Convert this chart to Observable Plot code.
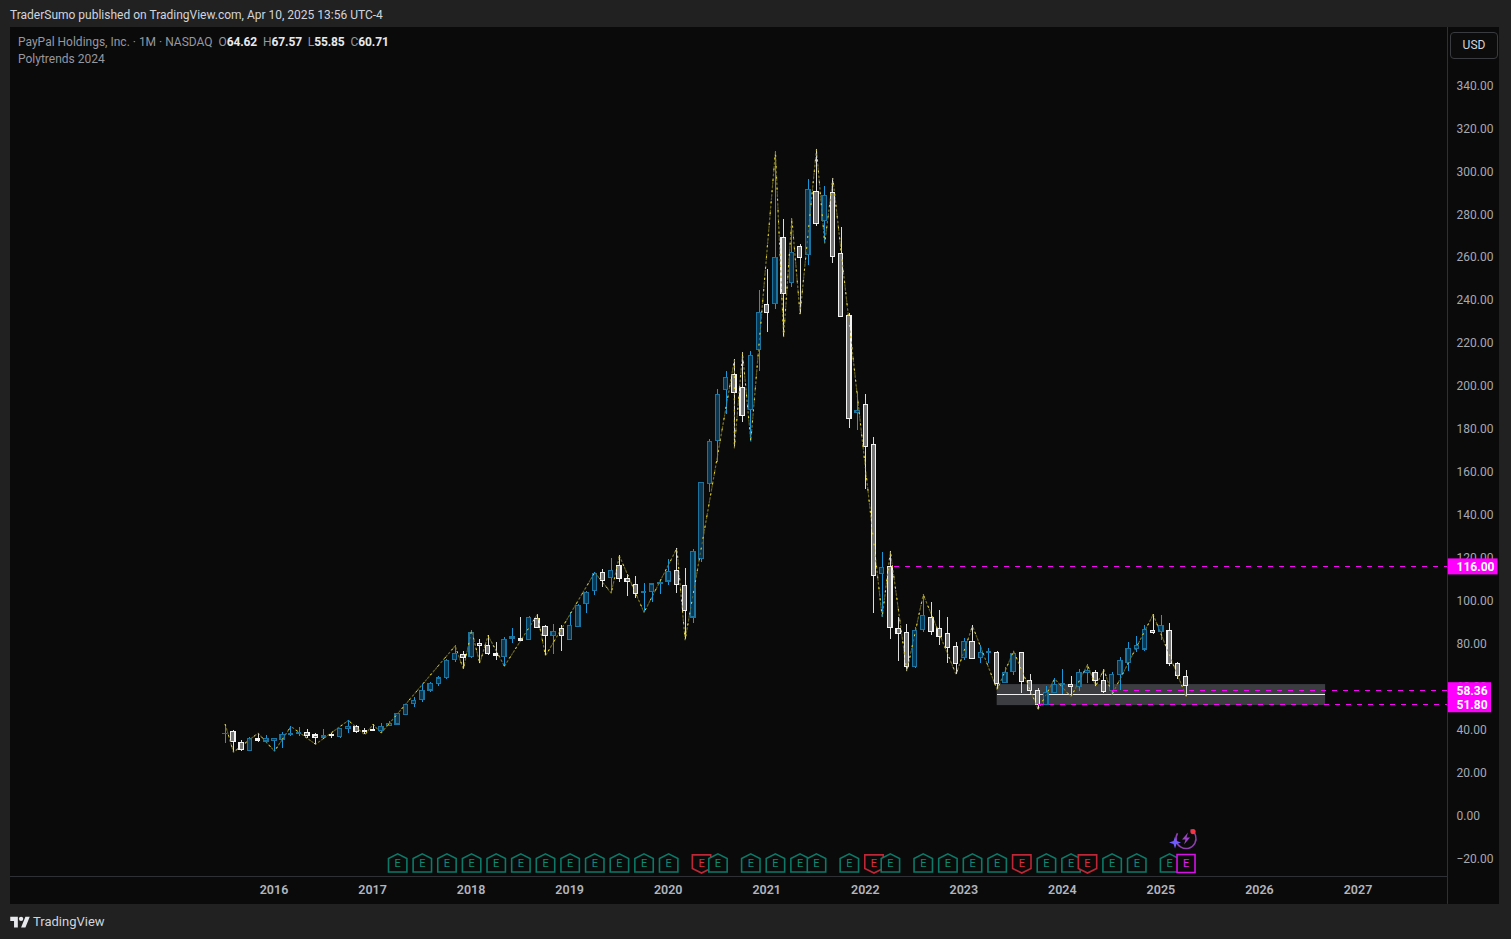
<!DOCTYPE html>
<html>
<head>
<meta charset="utf-8">
<script src="https://cdn.jsdelivr.net/npm/d3@7"></script>
<script src="https://cdn.jsdelivr.net/npm/@observablehq/plot@0.6"></script>
<style>
html,body{margin:0;padding:0;background:#212121;width:1511px;height:939px;overflow:hidden}
body{font-family:"Roboto",sans-serif;position:relative}
.abs{position:absolute;white-space:pre}
#panel{position:absolute;left:10px;top:27px;width:1489px;height:877px;background:#0a0a0a}
#panel svg{display:block}
b{color:#e8e9ec;font-weight:700;letter-spacing:-0.15px}
</style>
</head>
<body>
<div class="abs" style="left:10px;top:7px;font-size:12px;line-height:17px;color:#d1d4dc">TraderSumo published on TradingView.com, Apr 10, 2025 13:56 UTC-4</div>
<div id="panel"></div>
<div class="abs" style="left:18px;top:34px;font-size:12px;line-height:17px;color:#9598a1">PayPal Holdings, Inc. · 1M · NASDAQ  O<b>64.62</b>  H<b>67.57</b>  L<b>55.85</b>  C<b>60.71</b></div>
<div class="abs" style="left:18px;top:51px;font-size:12px;line-height:17px;color:#9598a1">Polytrends 2024</div>
<div class="abs" style="left:1450px;top:32px;width:46px;height:25px;border:1px solid #3a3b40;border-radius:4px;background:#0c0c0c;color:#d1d4dc;font-size:12px;line-height:25px;text-align:center">USD</div>
<svg class="abs" style="left:10px;top:915px" width="20" height="13" viewBox="0 0 36 24"><path fill="#e8e9ec" d="M14 23H7V11H0V3h14zM28 23h-8L28 3h8z"/><circle cx="20" cy="7" r="4" fill="#e8e9ec"/></svg>
<div class="abs" style="left:33px;top:912px;font-size:13px;line-height:19px;color:#d1d4dc">TradingView</div>
<script>
const firstMonthIndex = -6; // Jul 2015, with Jan 2016 as 0
const opens = [38.0,39.2,34.1,30.2,35.6,34.7,
 34.8,35.3,37.6,38.3,38.7,37.5,36.4,37.5,36.7,40.4,41.5,39.5,
 40.1,39.5,42.0,42.6,47.0,52.1,54.0,58.4,61.4,64.2,72.6,75.0,
 74.0,80.0,79.2,75.2,74.1,82.3,82.6,81.9,91.8,88.1,83.7,87.2,
 81.9,87.9,98.6,104.7,113.2,110.7,116.5,110.4,107.6,103.8,104.2,108.1,
 109.2,114.2,107.2,92.4,119.7,154.7,174.5,198.3,205.4,199.4,189.1,217.1,
 238.0,238.3,269.2,248.1,264.9,261.2,290.6,277.0,290.2,261.8,232.8,187.7,
 191.3,172.8,112.6,116.0,87.2,85.3,69.3,86.5,92.3,87.2,84.8,78.8,
 73.5,81.1,73.5,75.8,76.0,61.8,67.0,76.0,62.9,58.3,51.6,57.2,
 60.9,61.1,60.0,66.7,66.7,62.9,58.1,65.6,71.2,77.7,77.5,86.2,
 85.6,86.2,70.8,64.62];
const closes = [38.2,34.4,30.6,35.9,35.0,35.9,
 35.9,37.8,38.1,38.7,37.2,36.2,37.0,37.2,40.7,41.5,39.0,39.0,
 39.5,41.5,42.9,47.6,51.8,53.6,58.3,61.5,64.0,72.3,75.5,73.5,
 85.3,79.1,75.4,74.6,82.0,83.1,81.7,92.3,87.5,83.7,85.7,83.7,
 88.5,97.9,103.9,112.8,109.3,114.2,110.3,108.9,103.3,104.2,107.8,108.6,
 113.7,107.5,95.4,123.0,155.0,174.2,196.1,204.0,197.0,186.3,214.3,234.3,
 234.1,259.9,243.0,262.2,259.8,291.6,275.6,288.8,260.2,232.3,184.9,188.7,
 171.9,111.8,115.6,87.5,84.8,69.3,86.1,93.2,85.6,83.3,78.1,70.7,
 81.1,73.0,76.0,76.3,61.5,66.7,75.5,62.3,58.1,51.6,57.3,61.1,
 61.4,60.0,66.7,67.6,62.8,57.6,65.7,72.2,77.8,79.2,86.7,85.1,
 88.6,70.7,65.1,60.71];
const highs = [42.6,39.8,35.2,36.4,38.6,37.5,
 35.9,38.9,41.7,41.2,40.1,38.4,40.1,38.6,40.9,44.5,42.0,40.7,
 42.6,43.1,44.0,47.9,52.1,55.2,61.2,62.2,65.0,72.7,79.2,76.6,
 86.4,82.2,84.0,80.8,83.1,87.3,92.3,92.7,93.8,88.5,89.2,88.7,
 94.6,98.5,104.5,113.4,114.6,119.9,121.1,112.6,111.4,108.3,108.1,110.1,
 119.3,124.6,115.2,123.9,155.0,175.2,198.4,206.8,212.4,215.7,216.1,244.7,
 254.3,309.4,277.8,278.1,266.1,296.2,310.4,293.1,296.9,273.9,233.8,197.4,
 196.3,176.4,122.7,123.2,92.6,89.2,88.0,103.1,99.4,95.7,92.4,80.8,
 82.7,88.5,79.2,77.8,76.4,69.0,76.8,76.0,65.9,59.4,60.3,63.9,
 68.2,64.8,68.2,70.4,67.6,68.2,66.8,73.8,80.8,83.6,88.6,93.8,
 93.4,89.6,71.5,67.57];
const lows = [33.9,29.7,30.2,30.2,34.2,33.9,
 30.2,31.4,37.0,37.0,35.9,33.4,35.9,36.2,36.2,38.4,38.6,37.8,
 39.5,38.7,42.0,42.3,47.0,50.7,53.0,57.7,60.4,63.7,71.5,68.4,
 73.5,71.2,74.7,72.4,69.8,80.3,81.7,81.9,87.5,74.6,75.2,76.8,
 81.9,87.9,94.3,102.7,106.4,103.8,108.7,102.2,101.1,94.8,99.4,103.1,
 107.3,103.6,82.0,89.6,118.0,150.5,164.8,187.0,171.4,183.2,174.5,207.0,
 225.3,236.0,223.0,246.3,233.8,256.3,274.5,266.7,257.4,232.3,180.6,179.5,
 152.0,94.5,92.6,82.2,71.9,67.4,68.7,85.4,83.9,79.4,71.0,65.9,
 72.4,73.0,71.0,71.0,58.8,61.8,65.4,57.2,56.4,49.7,51.6,57.2,
 56.6,55.5,58.1,61.7,60.5,57.0,56.6,58.4,67.3,76.3,76.8,84.5,
 81.7,69.6,63.4,55.85];

// Polytrends zigzag: [month index, price]
const trendMonths = [-6,-5,-2,0,2,5,9,11,12,13,22,23,24,25,26,28,32,33,39,41,42,45,49,50,56,56,57,58,61,62,63,64,66,67,68,74,75,77,79,83,85,88,90,93,95,97,99,100,101,102,107,111];
const trendPrices = [42.6,29.7,38.6,30.2,41.7,33.4,44.5,37.8,42.6,38.7,79.2,68.4,86.4,71.2,84.0,69.8,93.8,74.6,113.4,103.8,121.1,94.8,124.6,82.0,212.4,171.4,215.7,174.5,309.4,223.0,278.1,233.8,310.4,266.7,296.9,92.6,123.2,67.4,103.1,65.9,88.5,58.8,76.8,49.7,63.9,55.5,70.4,60.5,68.2,56.6,93.8,55.85];

const earningsMonths = [15,18,21,24,27,30,33,36,39,42,45,48,52,54,58,61,64,66,70,73,75,79,82,85,88,91,94,97,99,102,105,109,111];
const earningsKinds = ["g","g","g","g","g","g","g","g","g","g","g","g","r","g","g","g","g","g","g","r","g","g","g","g","g","r","g","g","r","g","g","g","m"];

const levelPrices = [116.00,58.36,51.80];
const levelStarts = [75.5,102,93];
const levelEnds = [149,148.2,148.2];
const zoneMonths = [88,128];
const zonePrices = [51.4,61.2];
const zoneLine = 56.5;

const yearTicks = d3.range(0,144,12);
const priceTicks = d3.range(-20,341,20);

const xMin = -32.15, xMax = 142.84, yMin = -28.17, yMax = 367.17;

const candles = opens.map((o,i)=>({m:i+firstMonthIndex,o,c:closes[i],h:highs[i],l:lows[i],top:Math.max(o,closes[i]),bot:Math.min(o,closes[i])}));
const up = candles.filter(d=>d.c>=d.o), down = candles.filter(d=>d.c<d.o);
const trend = trendMonths.map((m,i)=>({m,p:trendPrices[i]}));
const levels = levelPrices.map((p,i)=>({p,a:levelStarts[i],b:levelEnds[i]}));

const house = (upward)=>({draw(c){
  const w=9.2,h=9.6,t=3.6;
  if(upward){c.moveTo(0,-h);c.lineTo(w,-h+t+1);c.lineTo(w,h-1);c.lineTo(-w,h-1);c.lineTo(-w,-h+t+1);}
  else{c.moveTo(-w,-h+1);c.lineTo(w,-h+1);c.lineTo(w,h-t-1);c.lineTo(0,h);c.lineTo(-w,h-t-1);}
  c.closePath();
}});
const square = {draw(c){c.moveTo(-9,-9);c.lineTo(9,-9);c.lineTo(9,9);c.lineTo(-9,9);c.closePath();}};
const ring = {draw(c){c.arc(0,0,10,-1.1,3.7);}};
const bolt = {draw(c){c.moveTo(2,-6);c.lineTo(-4,1);c.lineTo(-0.5,1);c.lineTo(-2,6);c.lineTo(4,-1);c.lineTo(0.5,-1);c.closePath();}};
const star = {draw(c){c.moveTo(0,-6);c.lineTo(1.5,-1.5);c.lineTo(6,0);c.lineTo(1.5,1.5);c.lineTo(0,6);c.lineTo(-1.5,1.5);c.lineTo(-6,0);c.lineTo(-1.5,-1.5);c.closePath();}};
const kinds = {
 g:{symbol:house(true),stroke:"#0b7a68",text:"#0f8a75"},
 r:{symbol:house(false),stroke:"#bf2636",text:"#d8303f"},
 m:{symbol:square,stroke:"#d80fe8",text:"#e020f0"}
};
const iconY = -22.1, flashY = -10.5;

const earningsMarks = earningsMonths.map((m,i)=>{
  const k = kinds[earningsKinds[i]];
  return [
    Plot.dot([m],{x:d=>d,y:()=>iconY,symbol:k.symbol,stroke:k.stroke,fill:"#0a0a0a",strokeWidth:1.6,r:4}),
    Plot.text([m],{x:d=>d,y:()=>iconY,text:()=>"E",fill:k.text,fontSize:11,dy:0.5})
  ];
});

const chart = Plot.plot({
  width:1489,height:877,
  marginLeft:0,marginRight:52,marginTop:0,marginBottom:28,
  style:{background:"#0a0a0a",color:"#b2b5be",fontFamily:"Roboto,sans-serif",fontSize:"12px"},
  x:{domain:[xMin,xMax],range:[0,1437],type:"linear"},
  y:{domain:[yMin,yMax],range:[849,0],type:"linear"},
  marks:[
    Plot.ruleY([yMin],{stroke:"#2f2f36",strokeWidth:1}),
    Plot.ruleX([xMax],{stroke:"#2f2f36",strokeWidth:1,y1:yMin-13,y2:yMax}),
    Plot.axisX({ticks:yearTicks,tickFormat:d=>String(2016+d/12),tickSize:0,tickPadding:9,fontWeight:600,fontSize:12.5,dx:-0.5,label:null,fill:"#b2b5be"}),
    Plot.axisY({anchor:"right",ticks:priceTicks,tickFormat:d=>(d<0?"−":"")+Math.abs(d).toFixed(2),tickSize:0,tickPadding:9,fontSize:12,label:null,fill:"#a6a9b2"}),
    // zone
    Plot.rect([0],{x1:()=>zoneMonths[0],x2:()=>zoneMonths[1],y1:()=>zonePrices[0],y2:()=>zonePrices[1],fill:"#3c3d41"}),
    Plot.ruleY([zoneLine],{x1:()=>zoneMonths[0],x2:()=>zoneMonths[1],stroke:"#f0f0f0",strokeWidth:1,shapeRendering:"crispEdges"}),
    // trend, olive underlay
    Plot.line(trend,{x:"m",y:"p",stroke:"#5f5b20",strokeWidth:1.2,strokeDasharray:"1.5,2.5"}),
    // candles
    Plot.ruleX(up,{x:"m",y1:"l",y2:"h",stroke:"#1a96da",strokeWidth:1,shapeRendering:"crispEdges"}),
    Plot.ruleX(down,{x:"m",y1:"l",y2:"h",stroke:"#dcdcdc",strokeWidth:1,shapeRendering:"crispEdges"}),
    Plot.rect(up,{x1:d=>d.m-0.26,x2:d=>d.m+0.26,y1:"bot",y2:"top",fill:"#0c3650",stroke:"#1b739f",strokeWidth:1.2,shapeRendering:"crispEdges"}),
    Plot.rect(down,{x1:d=>d.m-0.26,x2:d=>d.m+0.26,y1:"bot",y2:"top",fill:"#767676",stroke:"#f2f2f2",strokeWidth:1.2,shapeRendering:"crispEdges"}),
    // trend, bright dots on top
    Plot.line(trend,{x:"m",y:"p",stroke:"#7f7928",strokeWidth:1,strokeDasharray:"1.5,4",strokeOpacity:0.7}),
    Plot.line(trend,{x:"m",y:"p",stroke:"#e8d82e",strokeWidth:1,strokeDasharray:"1,10"}),
    // levels
    Plot.ruleY(levels,{y:"p",x1:"a",x2:()=>xMax,stroke:"#ff00ff",strokeWidth:1,strokeDasharray:"5,6",shapeRendering:"crispEdges"}),
    Plot.rect(levels,{x1:()=>xMax+0.1,x2:"b",y1:d=>d.p-3.72,y2:d=>d.p+3.72,fill:"#ff00ff"}),
    Plot.text(levels,{x:()=>xMax,y:"p",text:d=>d.p.toFixed(2),fill:"#ffffff",fontWeight:700,fontSize:12,textAnchor:"start",dx:9}),
    // earnings
    ...earningsMarks,
    // flash icon
    Plot.dot([111],{x:d=>d,y:()=>flashY,symbol:ring,r:4,stroke:"#8e3fb0",fill:"none",strokeWidth:1.5}),
    Plot.dot([111],{x:d=>d,y:()=>flashY,symbol:bolt,r:4,fill:"#9c44c4",stroke:"none"}),
    Plot.dot([111],{x:d=>d,y:()=>flashY,symbol:star,r:4,fill:"#6f5cff",stroke:"none",dx:-11,dy:4}),
    Plot.dot([111],{x:d=>d,y:()=>flashY,r:2.6,fill:"#f23645",stroke:"none",dx:7,dy:-7})
  ]
});
document.getElementById("panel").appendChild(chart);
</script>
</body>
</html>
